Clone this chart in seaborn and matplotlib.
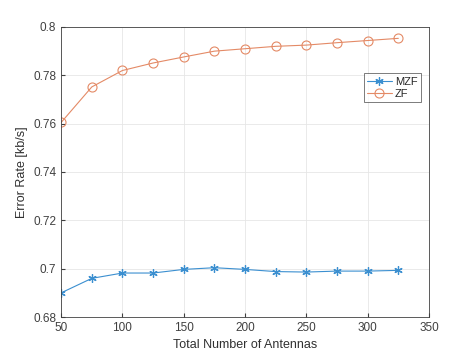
import matplotlib
matplotlib.use('Agg')
import matplotlib.pyplot as plt
import seaborn as sns
import pandas as pd

# data
antennas = [50, 75, 100, 125, 150, 175, 200, 225, 250, 275, 300, 325]
mzf = [0.6900, 0.6960, 0.6982, 0.6982, 0.6997, 0.7004, 0.6997, 0.6988, 0.6986, 0.6990, 0.6990, 0.6993]
zf = [0.7605, 0.7752, 0.7820, 0.7851, 0.7876, 0.7900, 0.7910, 0.7920, 0.7925, 0.7935, 0.7944, 0.7953]

df = pd.DataFrame({'antennas': antennas * 2,
                   'rate': mzf + zf,
                   'scheme': ['MZF'] * len(mzf) + ['ZF'] * len(zf)})

sns.set_style('white')
plt.rcParams['font.family'] = ['Liberation Sans', 'DejaVu Sans']

fig = plt.figure(figsize=(4.74, 3.55), dpi=100)
ax = fig.add_axes([0.129, 0.107, 0.776, 0.817])

blue = '#3b8fd0'
orange = '#e48a66'
sns.lineplot(data=df[df.scheme == 'MZF'], x='antennas', y='rate', ax=ax,
             color=blue, marker=(6, 2, 0), markersize=6, linewidth=0.8,
             markeredgecolor=blue, markeredgewidth=0.9, label='MZF')
sns.lineplot(data=df[df.scheme == 'ZF'], x='antennas', y='rate', ax=ax,
             color=orange, marker='o', markersize=6.5, linewidth=0.8,
             markerfacecolor='none', markeredgecolor=orange, markeredgewidth=0.8,
             label='ZF')

ax.set_xlim(50, 350)
ax.set_ylim(0.68, 0.8)
ax.set_xticks(range(50, 351, 50))
ax.set_yticks([0.68, 0.70, 0.72, 0.74, 0.76, 0.78, 0.80])
ax.set_yticklabels(['0.68', '0.7', '0.72', '0.74', '0.76', '0.78', '0.8'])
ax.grid(True, color='#e6e6e6', linewidth=0.6)
ax.tick_params(labelsize=8.5, colors='#404040', length=3, direction='in',
               bottom=True, left=True)
for s in ax.spines.values():
    s.set_color('#404040')
    s.set_linewidth(0.6)
ax.set_xlabel('Total Number of Antennas', fontsize=9, color='#303030')
ax.set_ylabel('Error Rate [kb/s]', fontsize=9, color='#303030')

leg = ax.legend(loc='upper left', bbox_to_anchor=(0.823, 0.84), fontsize=8,
                frameon=True, fancybox=False, edgecolor='#404040',
                borderpad=0.3, handlelength=2.2, labelspacing=0.2,
                handletextpad=0.3, borderaxespad=0)
leg.get_frame().set_linewidth(0.6)

fig.savefig('out.png', dpi=100, facecolor='white')
